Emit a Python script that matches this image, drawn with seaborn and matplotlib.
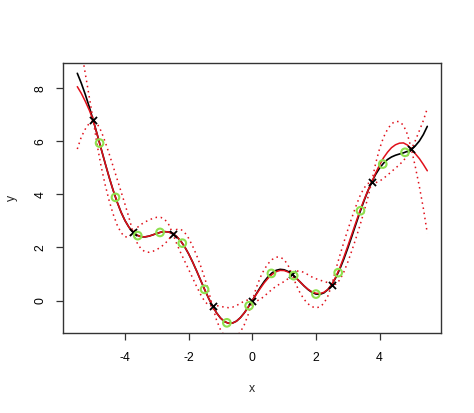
import numpy as np
import pandas as pd
import matplotlib
matplotlib.use("Agg")
import matplotlib.pyplot as plt
import seaborn as sns

# evaluation grid (step 0.125 from -5.5 to 5.5)
x_grid = np.linspace(-5.5, 5.5, 89)

true_f = [8.563, 8.193, 7.770, 7.301, 6.794, 6.261, 5.716, 5.174, 4.650, 4.161,
          3.717, 3.331, 3.011, 2.759, 2.578, 2.462, 2.406, 2.398, 2.426, 2.475,
          2.529, 2.575, 2.596, 2.582, 2.521, 2.410, 2.243, 2.024, 1.757, 1.450,
          1.116, 0.768, 0.421, 0.091, -0.208, -0.462, -0.659, -0.793, -0.857, -0.851,
          -0.779, -0.646, -0.464, -0.244, 0.000,
          0.251, 0.495, 0.717, 0.904, 1.047, 1.138, 1.175, 1.159, 1.095, 0.989,
          0.854, 0.704, 0.552, 0.415, 0.307, 0.243, 0.234, 0.288, 0.411, 0.604,
          0.864, 1.185, 1.558, 1.971, 2.408, 2.856, 3.298, 3.720, 4.108, 4.454,
          4.749, 4.989, 5.177, 5.314, 5.410, 5.475, 5.522, 5.565, 5.622, 5.706,
          5.832, 6.011, 6.253, 6.563]

post_mean = [8.06, 7.81, 7.51, 7.18, 6.794, 6.261, 5.716, 5.174, 4.650, 4.161,
             3.717, 3.331, 3.011, 2.759, 2.578, 2.462, 2.406, 2.398, 2.426, 2.475,
             2.529, 2.575, 2.596, 2.582, 2.521, 2.410, 2.243, 2.024, 1.757, 1.450,
             1.116, 0.768, 0.421, 0.091, -0.208, -0.462, -0.659, -0.793, -0.857, -0.851,
             -0.779, -0.646, -0.464, -0.244, 0.000,
             0.231, 0.455, 0.667, 0.844, 0.987, 1.088, 1.135, 1.129, 1.075, 0.989,
             0.854, 0.704, 0.552, 0.425, 0.327, 0.273, 0.264, 0.308, 0.421, 0.604,
             0.894, 1.235, 1.628, 2.051, 2.488, 2.926, 3.358, 3.760, 4.128, 4.454,
             4.80, 5.11, 5.38, 5.59, 5.76, 5.87, 5.93, 5.94, 5.86, 5.706,
             5.53, 5.35, 5.13, 4.89]

band_upper = [10.41, 9.46, 8.56, 7.68, 6.794, 6.666, 6.382, 5.984, 5.532, 5.061,
              4.581, 4.105, 3.623, 3.119, 2.578, 2.741, 2.865, 2.956, 3.034, 3.095,
              3.137, 3.133, 3.055, 2.861, 2.521, 2.680, 2.687, 2.564, 2.345, 2.050,
              1.704, 1.308, 0.865, 0.361, -0.208, -0.192, -0.215, -0.253, -0.269, -0.251,
              -0.191, -0.106, -0.020, 0.026, 0.000,
              0.483, 0.869, 1.171, 1.393, 1.547, 1.637, 1.639, 1.543, 1.327, 0.989,
              1.106, 1.118, 1.056, 0.974, 0.887, 0.822, 0.768, 0.722, 0.673, 0.604,
              1.173, 1.694, 2.186, 2.659, 3.108, 3.534, 3.916, 4.219, 4.407, 4.454,
              5.16, 5.722, 6.154, 6.454, 6.66, 6.752, 6.74, 6.606, 6.265, 5.706,
              6.03, 6.40, 6.78, 7.24]

band_lower = [5.71, 6.16, 6.46, 6.68, 6.794, 5.856, 5.050, 4.364, 3.768, 3.261,
              2.853, 2.557, 2.399, 2.399, 2.578, 2.183, 1.947, 1.840, 1.818, 1.855,
              1.921, 2.017, 2.137, 2.303, 2.521, 2.140, 1.799, 1.484, 1.169, 0.850,
              0.528, 0.228, -0.023, -0.179, -0.208, -0.732, -1.103, -1.333, -1.445, -1.451,
              -1.367, -1.186, -0.908, -0.514, 0.000,
              -0.021, 0.041, 0.163, 0.295, 0.427, 0.539, 0.631, 0.715, 0.823, 0.989,
              0.602, 0.290, 0.048, -0.124, -0.233, -0.276, -0.240, -0.106, 0.169, 0.604,
              0.615, 0.776, 1.070, 1.443, 1.868, 2.318, 2.800, 3.301, 3.849, 4.454,
              4.44, 4.498, 4.606, 4.726, 4.86, 4.988, 5.12, 5.274, 5.455, 5.706,
              5.03, 4.30, 3.48, 2.54]

train_x = [-5.0, -3.75, -2.5, -1.25, 0.0, 1.25, 2.5, 3.75, 5.0]
train_y = [6.794, 2.578, 2.521, -0.208, 0.000, 0.989, 0.604, 4.454, 5.706]

test_x = [-4.8, -4.3, -3.6, -2.9, -2.2, -1.5, -0.8, -0.1, 0.6, 1.3, 2.0, 2.7, 3.4, 4.1, 4.8]
test_y = [5.934, 3.888, 2.446, 2.567, 2.162, 0.421, -0.840, -0.196, 1.022, 0.938,
          0.243, 1.050, 3.384, 5.143, 5.586]

x_ticks = [-4, -2, 0, 2, 4]
y_ticks = [0, 2, 4, 6, 8]

sns.set_style("white")
plt.rcParams['font.family'] = ['Liberation Sans', 'DejaVu Sans']

W, H = 474, 413
fig = plt.figure(figsize=(W / 100, H / 100), dpi=100)
left, right, top, bottom = 63.3, 441.3, 63.3, 333.3
ax = fig.add_axes([left / W, 1 - bottom / H, (right - left) / W, (bottom - top) / H])

RED = '#e0101a'
dot = (0, (1, 2.4))

sns.lineplot(x=x_grid, y=true_f, color='black', linewidth=1.2, ax=ax)
sns.lineplot(x=x_grid, y=post_mean, color=RED, linewidth=1.1, ax=ax)
sns.lineplot(x=x_grid, y=band_upper, color=RED, linewidth=1.1, linestyle=dot, ax=ax)
sns.lineplot(x=x_grid, y=band_lower, color=RED, linewidth=1.1, linestyle=dot, ax=ax)

sns.scatterplot(x=train_x, y=train_y, marker='x', color='black', s=26,
                linewidth=1.3, ax=ax, zorder=4)
ax.scatter(test_x, test_y, marker='o', s=30, facecolors='none',
           edgecolors='#8ee04e', linewidths=1.5, zorder=5)

ax.set_xlim(-5.94, 5.94)
ax.set_ylim(-1.235, 8.94)
ax.set_xticks(x_ticks)
ax.set_yticks(y_ticks)
ax.set_xticklabels([str(t) for t in x_ticks])
ax.set_yticklabels([str(t) for t in y_ticks])

for sp in ax.spines.values():
    sp.set_visible(True)
    sp.set_color('#333333')
    sp.set_linewidth(1.0)

ax.tick_params(axis='both', which='major', bottom=True, left=True, direction='out',
               length=5.2, width=0.9, color='#333333', labelsize=8.8, labelcolor='black')
ax.tick_params(axis='x', pad=8.0)
ax.tick_params(axis='y', pad=7.0, labelrotation=90)
for lab in ax.get_yticklabels():
    lab.set_va('center')

ax.set_xlabel('')
ax.set_ylabel('')
fig.text(252 / W, 1 - 389 / H, 'x', ha='center', va='center', fontsize=8.8)
fig.text(12 / W, 1 - 198 / H, 'y', ha='center', va='center', fontsize=8.8, rotation=90)

fig.savefig('out.png', dpi=100)
